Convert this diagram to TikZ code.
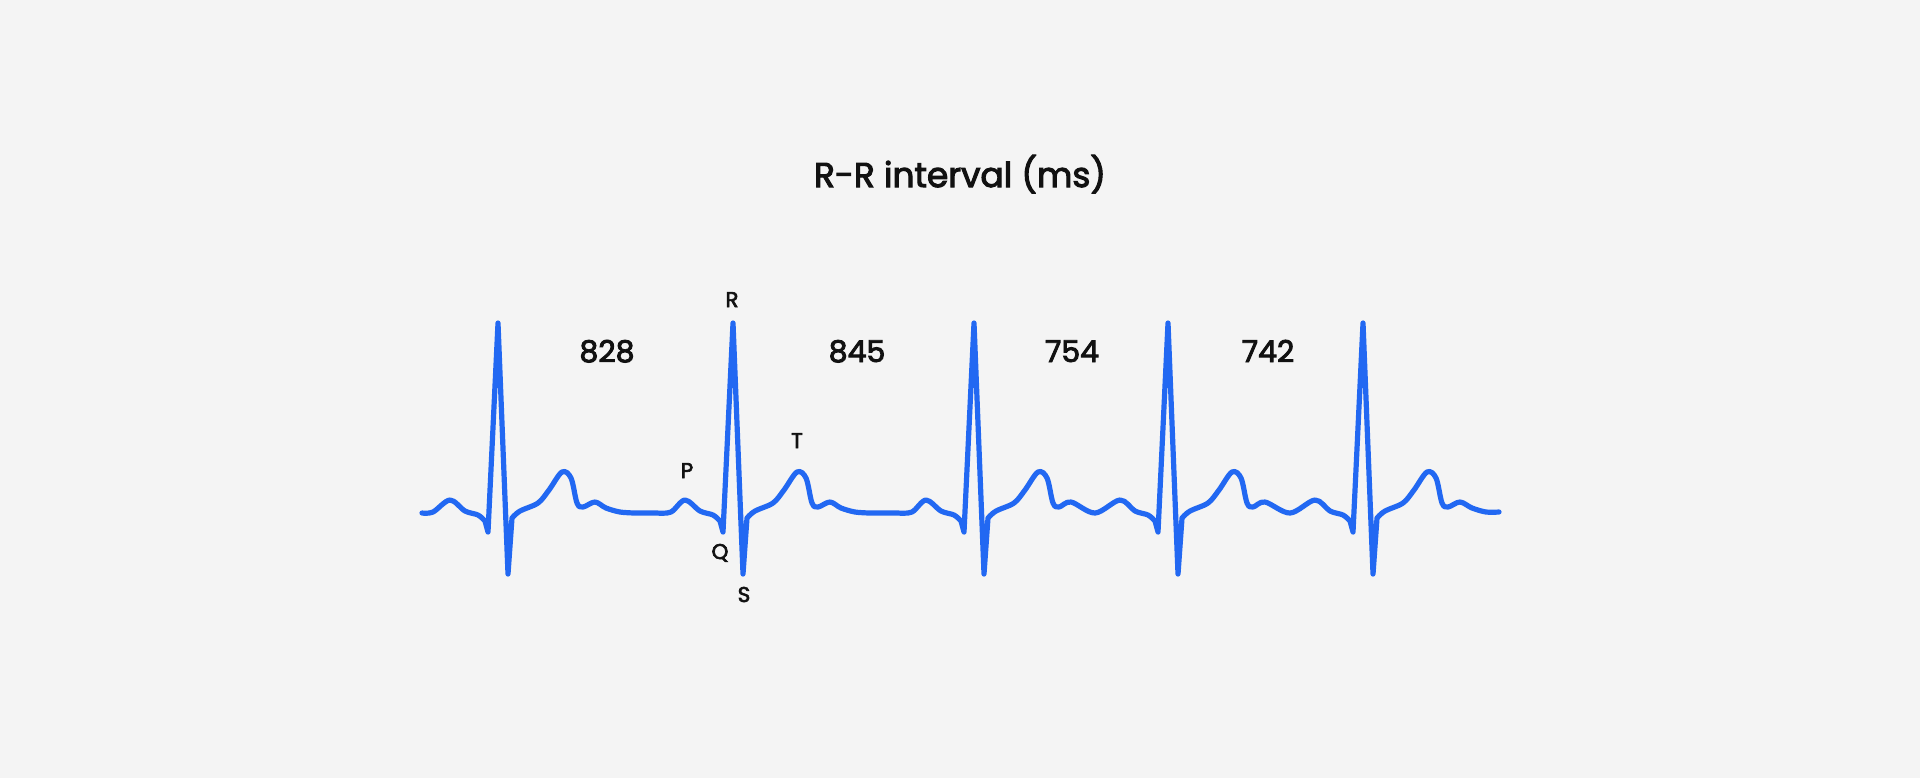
\documentclass[tikz,border=0pt]{standalone}
\usepackage{xcolor}
\usepackage{fontspec}
\setmainfont{Poppins}
\newfontfamily\medpoppins{Poppins}[FakeBold=3]
\usepackage{tikz}
\usetikzlibrary{positioning}

\definecolor{bgpaper}{HTML}{F4F4F4}
\definecolor{ecgblue}{HTML}{2268F2}
\definecolor{inkdark}{HTML}{111111}

\begin{document}
\begin{tikzpicture}[
        x=0.5pt, y=-0.5pt,
        ecg/.style={draw=ecgblue, line width=2.6pt, line join=round, line cap=round},
        wave/.style={smooth, tension=0.55},
        title/.style={anchor=base, text=inkdark, font=\medpoppins\fontsize{17.2}{20}\selectfont},
        interval/.style={anchor=base, text=inkdark, font=\medpoppins\fontsize{15}{18}\selectfont},
        peak/.style={anchor=base, text=inkdark, font=\medpoppins\fontsize{10.7}{13}\selectfont}
    ]
        % Background
        \fill[bgpaper] (0,0) rectangle (1920,778);
        \useasboundingbox (0,0) rectangle (1920,778);

        % Trace
        \draw[ecg]
            plot[wave] coordinates {(422,513) (433,512) (450,500) (465,511) (478,515) (485,521)}
            -- (488,532) -- (498,323) -- (508,574)
            -- plot[wave] coordinates {(512,518) (520,511) (538,503) (549,490) (562,472) (571,478) (577,503) (583,507) (595,502) (606,508) (620,512) (635,513)}
            -- plot[wave] coordinates {(657,513) (671,512) (685,500) (700,511) (713,515) (720,521)}
            -- (723,532) -- (733,323) -- (743,574)
            -- plot[wave] coordinates {(747,518) (755,511) (773,503) (784,490) (797,472) (806,478) (812,503) (818,507) (830,502) (841,508) (855,512) (870,513)}
            -- plot[wave] coordinates {(898,513) (912,512) (926,500) (941,511) (954,515) (961,521)}
            -- (964,532) -- (974,323) -- (984,574)
            -- plot[wave] coordinates {(988,518) (996,511) (1014,503) (1025,490) (1038,472) (1047,478) (1053,503) (1059,507) (1071,502) (1095,513) (1120,500) (1135,511) (1148,515) (1155,521)}
            -- (1158,532) -- (1168,323) -- (1178,574)
            -- plot[wave] coordinates {(1182,518) (1190,511) (1208,503) (1219,490) (1232,472) (1241,478) (1247,503) (1253,507) (1265,502) (1290,513) (1315,500) (1330,511) (1343,515) (1350,521)}
            -- (1353,532) -- (1363,323) -- (1373,574)
            -- plot[wave] coordinates {(1377,518) (1385,511) (1403,503) (1414,490) (1427,472) (1436,478) (1442,503) (1448,507) (1460,502) (1472,508) (1486,512) (1499,512)};

        % Nodes
        \node[title] (heading) at (960,187) {R-R interval (ms)};
        \node[interval] (rr1) at (607,362) {828};
        \node[interval] (rr2) at (857,362) {845};
        \node[interval] (rr3) at (1072,362) {754};
        \node[interval] (rr4) at (1268,362) {742};
        \node[peak] (wavep) at (687,478) {P};
        \node[peak] (waver) at (732,307) {R};
        \node[peak] (waveq) at (720,559) {Q};
        \node[peak] (waves) at (744,602) {S};
        \node[peak] (wavet) at (797,448) {T};
    \end{tikzpicture}
\end{document}
